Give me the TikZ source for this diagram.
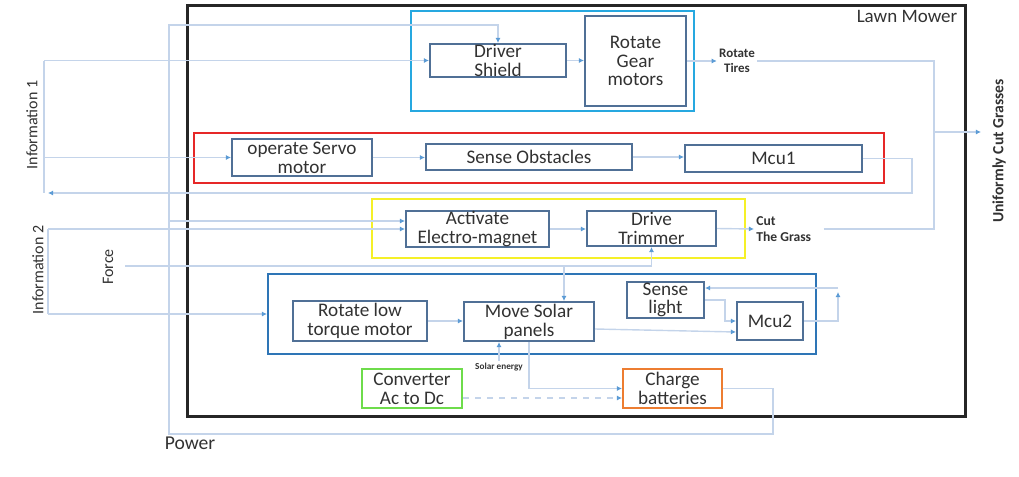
\documentclass[tikz,border=0pt]{standalone}
\usepackage{fontspec}
\setmainfont{Carlito}
\usetikzlibrary{arrows.meta}
\definecolor{unitc}{RGB}{80,112,150}
\definecolor{linkc}{RGB}{196,212,234}
\definecolor{tipc}{RGB}{91,155,213}
\definecolor{txtc}{RGB}{50,50,50}
\definecolor{cyanc}{RGB}{38,168,224}
\definecolor{redc}{RGB}{230,40,40}
\definecolor{yelc}{RGB}{245,240,40}
\definecolor{bluec}{RGB}{46,117,182}
\definecolor{greenc}{RGB}{110,220,75}
\definecolor{orangec}{RGB}{237,125,49}
\begin{document}
\begin{tikzpicture}[x=0.5pt,y=-0.5pt,
  unit/.style={draw=unitc, line width=1pt, align=center, inner sep=0pt, text=txtc, font=\fontsize{9.6}{9.4}\selectfont},
  grp/.style={draw=#1, line width=1pt, inner sep=0pt},
  flow/.style={draw=linkc, line width=0.7pt, -{Latex[length=2.6pt,width=2.6pt,color=tipc]}},
  wire/.style={draw=linkc, line width=0.7pt},
  note/.style={text=txtc, inner sep=1pt}]
\useasboundingbox (0,0) rectangle (1019,477);

\node[grp=black!85, line width=1.5pt, minimum width=389pt, minimum height=205.5pt] (mower) at (576,210.5) {};
\node[grp=cyanc, minimum width=141.5pt, minimum height=50pt] (tiresgrp) at (552.5,61) {};
\node[grp=redc, minimum width=345pt, minimum height=25pt] (obstgrp) at (539,158) {};
\node[grp=yelc, minimum width=186.5pt, minimum height=29.5pt] (cutgrp) at (558.5,228.5) {};
\node[grp=bluec, minimum width=274pt, minimum height=40pt] (panel) at (542,314) {};

\node[unit, minimum width=68pt, minimum height=16.5pt] (drv) at (498,60.5) {Driver\\Shield};
\node[unit, minimum width=50.5pt, minimum height=45pt] (gear) at (635.5,61) {Rotate\\Gear\\motors};
\node[unit, minimum width=70pt, minimum height=18.5pt] (servo) at (302,157.5) {operate Servo\\motor};
\node[unit, minimum width=103pt, minimum height=13pt] (sense) at (529,157) {Sense Obstacles};
\node[unit, minimum width=88.5pt, minimum height=13.5pt] (mcuA) at (773.5,158.5) {Mcu1};
\node[unit, minimum width=71.5pt, minimum height=17pt] (magnet) at (477.5,229) {Activate\\Electro-magnet};
\node[unit, minimum width=64.5pt, minimum height=17.5pt] (trim) at (651.5,228.5) {Drive\\Trimmer};
\node[unit, minimum width=67pt, minimum height=20pt] (lowtq) at (360,321) {Rotate low\\torque motor};
\node[unit, minimum width=65pt, minimum height=19.5pt] (solar) at (529,321.5) {Move Solar\\panels};
\node[unit, minimum width=38.5pt, minimum height=18pt] (light) at (665.5,300) {Sense\\light};
\node[unit, minimum width=33pt, minimum height=19pt] (mcuB) at (770,321) {Mcu2};
\node[unit, draw=greenc, minimum width=50pt, minimum height=19.5pt] (conv) at (412,388.5) {Converter\\Ac to Dc};
\node[unit, draw=orangec, minimum width=49.5pt, minimum height=19.5pt] (charge) at (672.5,388.5) {Charge\\batteries};

\node[note, font=\fontsize{9.5}{10}\selectfont] (lawn) at (907,16) {Lawn Mower};
\node[note, align=center, font=\bfseries\fontsize{6.5}{7.8}\selectfont] (tires) at (737,61) {Rotate\\Tires};
\node[note, align=left, anchor=west, font=\bfseries\fontsize{6.8}{7.8}\selectfont] (cutg) at (754,229) {Cut\\The Grass};
\node[note, rotate=90, font=\bfseries\fontsize{7.8}{9}\selectfont] (result) at (999,151) {Uniformly Cut Grasses};
\node[note, rotate=90, font=\fontsize{8}{9}\selectfont] (infoA) at (32,125) {Information 1};
\node[note, rotate=90, font=\fontsize{8}{9}\selectfont] (infoB) at (38,270) {Information 2};
\node[note, rotate=90, font=\fontsize{8}{9}\selectfont] (force) at (108,267) {Force};
\node[note, font=\fontsize{9.8}{11}\selectfont] (power) at (190,443) {Power};
\node[note, font=\bfseries\fontsize{4.6}{5}\selectfont] (sun) at (499,367) {Solar energy};

\coordinate (ia) at (44,60.5);
\coordinate (ib) at (44,193);
\coordinate (iback) at (48,193);
\coordinate (ic) at (48,229);
\coordinate (id) at (48,314);
\coordinate (pa) at (169,25);
\coordinate (pm) at (169,221);
\coordinate (pb) at (169,434);
\coordinate (pc) at (773,434);
\coordinate (fa) at (125,266);
\coordinate (fb) at (564,266);
\coordinate (jn) at (934,132);
\coordinate (outp) at (981,132);
\coordinate (la) at (838,292);
\coordinate (lb) at (838,288);

\draw[wire] (ia) -- (ib);
\draw[flow] (ia) -- (drv.west);
\draw[flow] (ia |- servo.west) -- (servo.west);
\draw[flow] (mcuA.east) -- ++(49,0) |- (iback);
\draw[wire] (ic) -- (id);
\draw[flow] (ic) -- (magnet.west);
\draw[flow] (id) -- (panel.west);
\draw[flow] (charge.east) -| (pc) -- (pb) -- (pa) -| (drv.north);
\draw[flow] (pm) -- (pm -| magnet.west);
\draw[flow] (fa) -| (trim.south);
\draw[flow] (fb) -- (fb |- solar.north);
\draw[flow] (drv.east) -- (drv.east -| gear.west);
\draw[flow] (gear.east) -- (tires.west);
\draw[wire] (tires.east) -| (jn);
\draw[wire] ([xshift=5pt]cutg.east) -| (jn);
\draw[flow] (jn) -- (outp);
\draw[flow] (servo.east) -- (servo.east -| sense.west);
\draw[flow] (sense.east) -- (sense.east -| mcuA.west);
\draw[flow] (magnet.east) -- (magnet.east -| trim.west);
\draw[flow] (trim.east) -- (cutg.west);
\draw[flow] (lowtq.east) -- (lowtq.east -| solar.west);
\draw[flow] ([yshift=-3.75pt]solar.east) -- ([yshift=-5.5pt]mcuB.west);
\draw[flow] (light.east) -- ++(20,0) |- (mcuB.west);
\draw[flow] (mcuB.east) -| (la);
\draw[flow] (lb) -- (lb -| light.east);
\draw[flow] (sun.north) -- (sun.north |- solar.south);
\draw[flow] (solar.south) |- (charge.west);
\draw[flow, dashed] ([yshift=-4.75pt]conv.east) -- ([yshift=-4.75pt]charge.west);
\end{tikzpicture}
\end{document}
